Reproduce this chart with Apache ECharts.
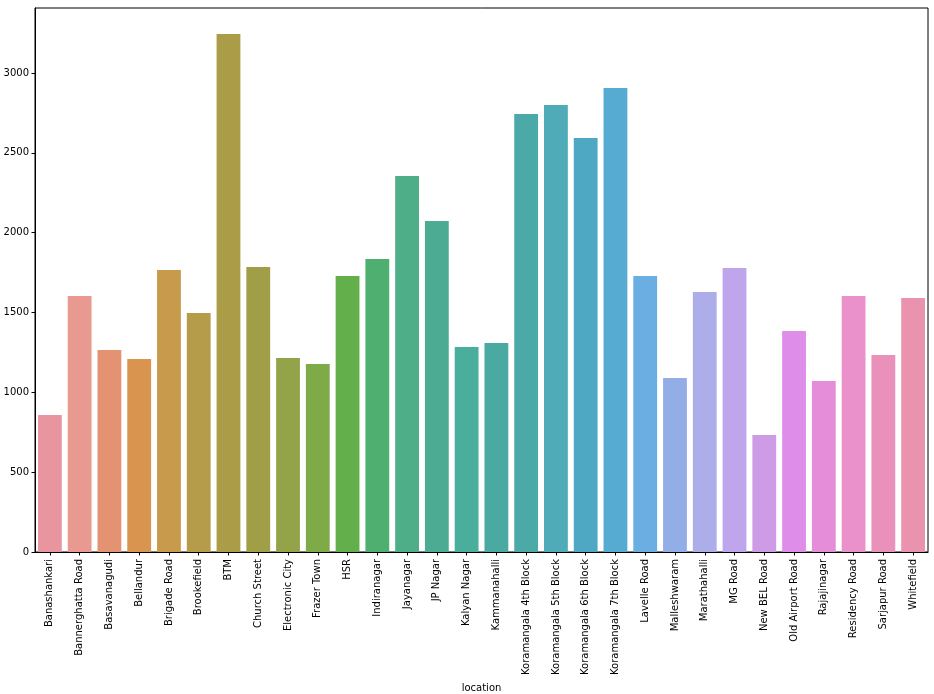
<!DOCTYPE html>
<html><head><meta charset="utf-8">
<script src="https://cdn.jsdelivr.net/npm/echarts@6/dist/echarts.min.js"></script>
<style>html,body{margin:0;padding:0;background:#fff}#c{width:934px;height:694px}</style>
</head><body><div id="c"></div>
<script>
const categories = ["Banashankari","Bannerghatta Road","Basavanagudi","Bellandur","Brigade Road","Brookefield","BTM","Church Street","Electronic City","Frazer Town","HSR","Indiranagar","Jayanagar","JP Nagar","Kalyan Nagar","Kammanahalli","Koramangala 4th Block","Koramangala 5th Block","Koramangala 6th Block","Koramangala 7th Block","Lavelle Road","Malleshwaram","Marathahalli","MG Road","New BEL Road","Old Airport Road","Rajajinagar","Residency Road","Sarjapur Road","Whitefield"];
const values = [858,1603,1265,1209,1766,1497,3244,1785,1215,1177,1729,1835,2355,2073,1284,1309,2743,2800,2593,2906,1729,1090,1628,1779,733,1384,1071,1603,1234,1591];
const yTicks = [0,500,1000,1500,2000,2500,3000];

// bar colours (style only)
const colors = ["#E8959F","#E89990","#E49372","#D99450","#C89A4C","#B59C4A","#AB9D48","#A09F48","#93A349","#7EAA48",
  "#62AF4C","#4FAF70","#4DAE88","#4BAC93","#4AAE9C","#4AAAA2","#4BAAA8","#4FABB8","#4EA8C4","#55ABD2",
  "#6AAEE2","#93AEE6","#ADADEA","#BFA5EB","#CE9BE6","#DE8EE8","#E68DD9","#EA90CA","#E991BA","#E993AE"];

const chart = echarts.init(document.getElementById('c'), null, {renderer:'canvas'});
chart.setOption({
  animation:false,
  textStyle:{fontFamily:'DejaVu Sans'},
  grid:{left:35,right:6,top:8,bottom:142,show:true,borderColor:'#000',borderWidth:1,containLabel:false,outerBoundsMode:'none'},
  xAxis:{type:'category',data:categories,
    name:'location',nameLocation:'middle',nameGap:126,
    nameTextStyle:{fontSize:10,color:'#000',fontFamily:'DejaVu Sans'},
    axisLine:{show:true,lineStyle:{color:'#000',width:1}},
    axisTick:{show:true,alignWithLabel:true,length:3.5,lineStyle:{color:'#000'}},
    axisLabel:{rotate:90,interval:0,fontSize:10,color:'#000',margin:7,fontFamily:'DejaVu Sans'}},
  yAxis:{type:'value',min:yTicks[0],max:3407,interval:500,
    axisLine:{show:true,lineStyle:{color:'#000',width:1}},
    axisTick:{show:true,length:3.5,lineStyle:{color:'#000'}},
    splitLine:{show:false},
    axisLabel:{fontSize:10,color:'#000',margin:6,showMaxLabel:false,fontFamily:'DejaVu Sans',
      formatter:function(v){return yTicks.indexOf(v)>=0?String(v):'';}}},
  series:[{type:'bar',barCategoryGap:'20%',
    data:values.map((v,i)=>({value:v,itemStyle:{color:colors[i]}}))}]
});
</script></body></html>
